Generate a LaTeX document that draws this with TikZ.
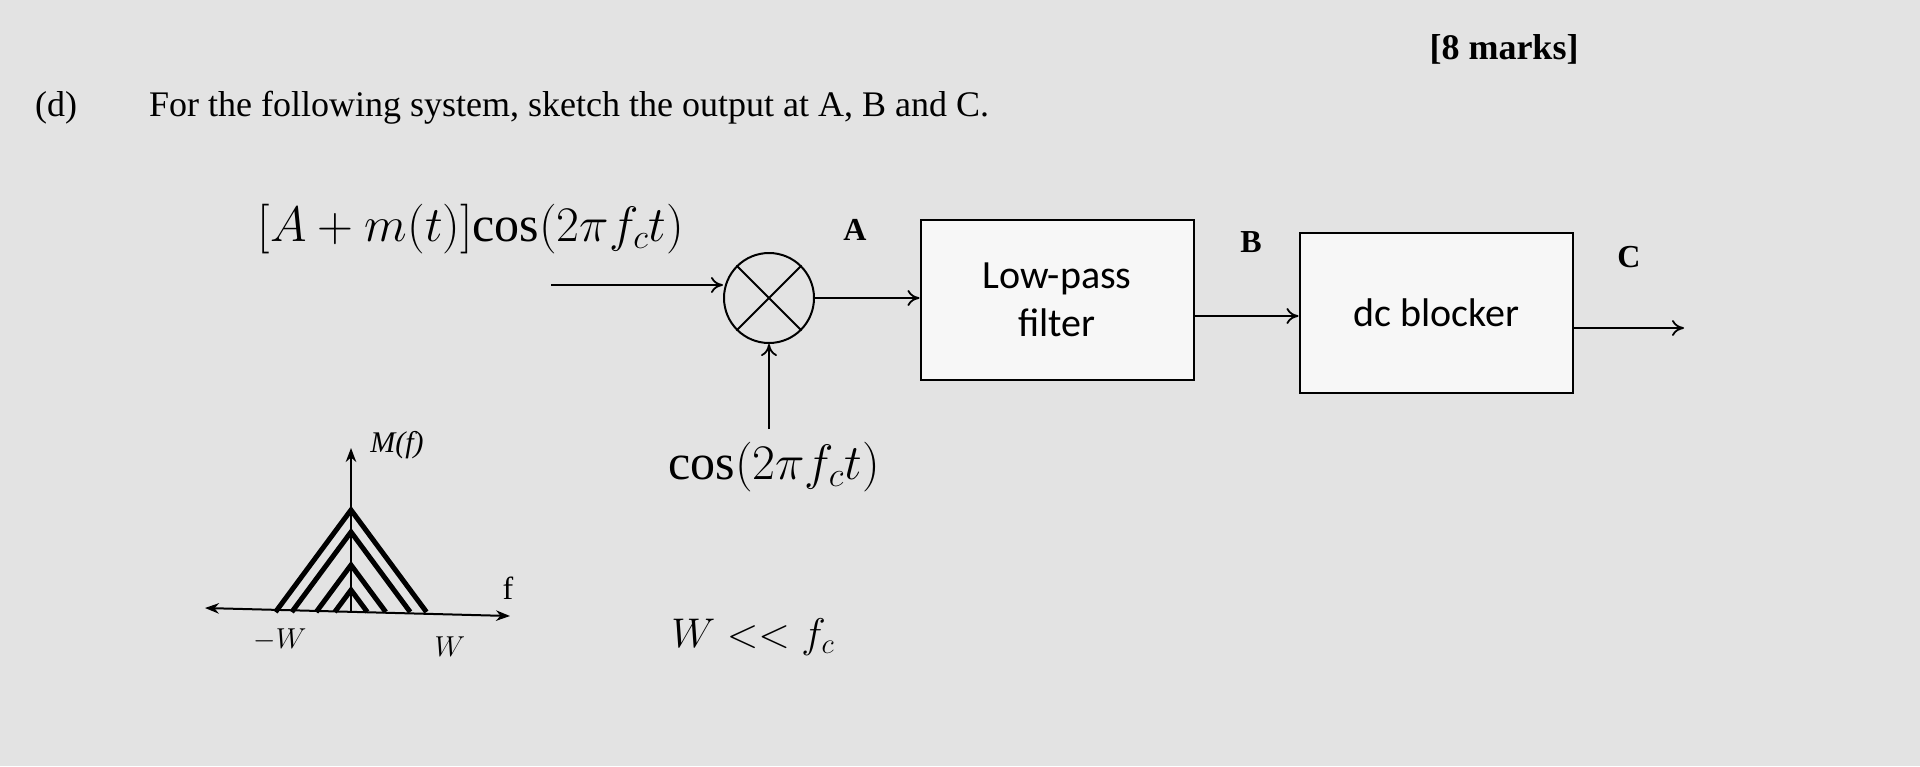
\documentclass[tikz,border=0pt]{standalone}
\usepackage{fontspec}
\setmainfont{Liberation Serif}
\newfontfamily\boxfont{Carlito}
\usetikzlibrary{arrows.meta}
\newcommand{\mycos}{\mbox{\rmfamily cos}}
\begin{document}
\begin{tikzpicture}[x=0.5pt,y=-0.5pt,
  blk/.style={draw,line width=1pt,fill=gray!6,minimum width=136.5pt,minimum height=80pt,font=\boxfont\fontsize{20}{24}\selectfont,align=center},
  arr/.style={-{To[length=6pt,width=8pt]},line width=0.9pt},
  lab/.style={font=\fontsize{25}{30}\selectfont},
  txt/.style={font=\fontsize{18}{22}\selectfont}]
\fill[gray!22] (0,0) rectangle (1920,766);
\useasboundingbox (0,0) rectangle (1920,766);
\node[txt,font=\bfseries\fontsize{18}{22}\selectfont] (marks) at (1504,49) {[8 marks]};
\node[txt,anchor=west] (d) at (28,108) {(d)};
\node[txt,anchor=west] (q) at (142,108) {For the following system, sketch the output at A, B and C.};
\node[lab] (in) at (471,229) {$[A+m(t)]\mycos\big(2\pi f_c t\big)$};
\coordinate (ins) at (551,285);
\node[draw,circle,line width=1pt,minimum size=45pt,inner sep=0] (mx) at (769,298) {};
\draw[line width=1pt] (mx.north west)--(mx.south east) (mx.north east)--(mx.south west);
\draw[arr] (ins) -- (ins -| mx.west);
\node[blk] (lpf) at (1057,300) {Low-pass\\filter};
\node[blk] (dc) at (1436,313) {dc blocker};
\draw[arr] (mx.east) -- (lpf.west |- mx.east);
\node[font=\bfseries\fontsize{16}{20}\selectfont] (A) at (855,230) {A};
\node[font=\bfseries\fontsize{16}{20}\selectfont] (B) at (1251,242) {B};
\node[font=\bfseries\fontsize{16}{20}\selectfont] (C) at (1629,257) {C};
\coordinate (b1) at (1194,316);
\draw[arr] (b1) -- (b1 -| dc.west);
\coordinate (outp) at (1684,328);
\draw[arr] (outp -| dc.east) -- (outp);
\node[lab] (cs) at (774,467) {$\mycos\big(2\pi f_c t\big)$};
\coordinate (cb) at (769,429);
\draw[arr] (cb) -- (mx.south);
% spectrum
\coordinate (o) at (351,612);
\draw[{Stealth[length=7pt]}-{Stealth[length=7pt]},line width=1pt] (205,608) -- (510,616);
\draw[-{Stealth[length=7pt]},line width=1pt] (o) -- (351,448);
\foreach \h in {102,80,47,22}{
  \draw[line width=2.5pt] ({351-0.74*\h},612) -- (351,{612-\h}) -- ({351+0.74*\h},612);
}
\node[font=\itshape\fontsize{15}{18}\selectfont] (M) at (397,445) {M(f)};
\node[font=\fontsize{16}{18}\selectfont] (f) at (508,588) {f};
\node[font=\itshape\fontsize{15}{18}\selectfont] (mw) at (280,640) {$-W$};
\node[font=\itshape\fontsize{15}{18}\selectfont] (w) at (450,647) {$W$};
\node[font=\fontsize{20}{24}\selectfont] (cond) at (753,637) {$W<<f_c$};
\end{tikzpicture}
\end{document}
